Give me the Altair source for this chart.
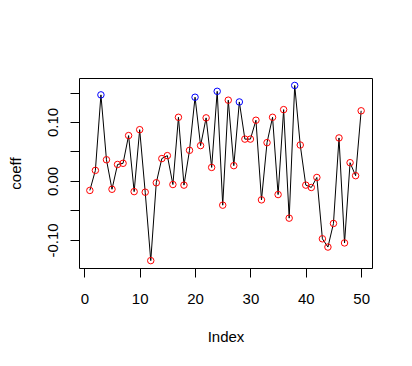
import altair as alt
import pandas as pd

index = list(range(1, 51))
coeff = [-0.016, 0.018, 0.146, 0.036, -0.014, 0.028, 0.030, 0.077, -0.018, 0.087,
         -0.019, -0.135, -0.003, 0.038, 0.043, -0.006, 0.108, -0.007, 0.052, 0.142,
         0.060, 0.107, 0.023, 0.152, -0.041, 0.137, 0.026, 0.134, 0.071, 0.071,
         0.103, -0.032, 0.065, 0.108, -0.023, 0.121, -0.063, 0.162, 0.061, -0.007,
         -0.011, 0.006, -0.098, -0.112, -0.072, 0.073, -0.105, 0.031, 0.009, 0.119]
colors = ["red"] * 50
for i in [3, 20, 24, 28, 38]:
    colors[i - 1] = "blue"

x_ticks = [0, 10, 20, 30, 40, 50]
y_ticks = [-0.15, -0.10, -0.05, 0.0, 0.05, 0.10, 0.15]

df = pd.DataFrame({"Index": index, "coeff": coeff, "col": colors})

FONT = "Liberation Sans"
FS = 15

xenc = alt.X("Index:Q",
             scale=alt.Scale(domain=[-0.96, 51.96], nice=False, zero=False),
             axis=alt.Axis(values=x_ticks, domain=False, grid=False, tickSize=9,
                           tickColor="black", tickWidth=1, labelFontSize=FS,
                           labelFont=FONT, labelColor="black", labelPadding=14,
                           labelOverlap=False, title="Index", titleFont=FONT,
                           titleFontSize=FS, titleFontWeight="normal",
                           titleColor="black", titleBaseline="alphabetic",
                           titleX=146.5, titleY=73, titleAnchor="middle"))
yenc = alt.Y("coeff:Q",
             scale=alt.Scale(domain=[-0.1475, 0.1746], nice=False, zero=False),
             axis=alt.Axis(values=y_ticks, domain=False, grid=False, tickSize=9,
                           tickColor="black", tickWidth=1, labelFontSize=FS,
                           labelFont=FONT, labelColor="black", labelAngle=270,
                           labelAlign="center", labelBaseline="alphabetic",
                           labelPadding=13, labelOverlap=False,
                           labelExpr="abs(datum.value) < 0.001 ? '0.00' : (datum.value > 0.09 && datum.value < 0.11 ? '0.10' : (datum.value < -0.09 && datum.value > -0.11 ? '-0.10' : ''))",
                           title="coeff", titleFont=FONT, titleFontSize=FS,
                           titleFontWeight="normal", titleColor="black",
                           titleAngle=270, titleBaseline="alphabetic",
                           titleAlign="center", titleX=-59, titleY=95))

line = alt.Chart(df).mark_line(color="black", strokeWidth=1).encode(x=xenc, y=yenc)
pts = alt.Chart(df).mark_point(shape="circle", filled=False, size=42, strokeWidth=1,
                               opacity=1).encode(
    x=xenc, y=yenc, color=alt.Color("col:N", scale=None))

chart = (line + pts).properties(
    width=293, height=190,
    autosize=alt.AutoSizeParams(type="none"),
    padding={"left": 71, "top": 70, "right": 32, "bottom": 90},
    background="white",
).configure_view(stroke="black", strokeWidth=1)

chart.save("out.html", embed_options={"renderer": "svg", "actions": False})
